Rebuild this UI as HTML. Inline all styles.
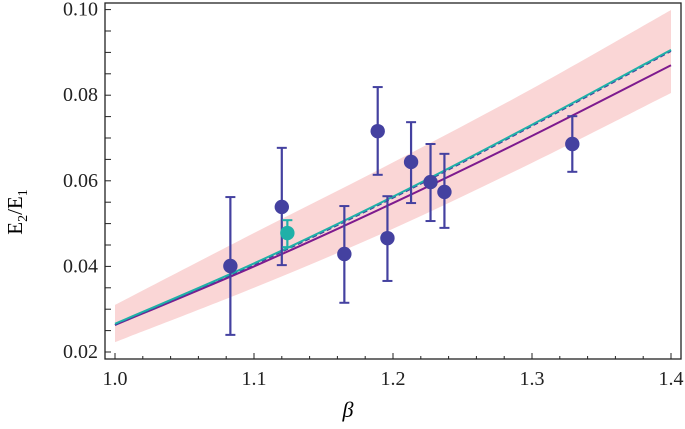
<!DOCTYPE html>
<html><head><meta charset="utf-8"><style>
html,body{margin:0;padding:0;background:#fff;}
svg{display:block;}
text{font-family:"Liberation Serif","Times New Roman",Times,serif;}
</style></head><body>
<svg id="chart" width="685" height="429" xmlns="http://www.w3.org/2000/svg" font-family="Liberation Serif, Times New Roman, serif">
<g id="band"></g>
<g id="lines"></g>
<g id="points"></g>
<rect x="105" y="3" width="576" height="356" fill="none" stroke="#222" stroke-width="1.3"/>
<g id="axes"></g>
<text x="348" y="417" font-size="22" font-style="italic" text-anchor="middle" font-family="Liberation Serif, serif">β</text>
<text transform="translate(22,212) rotate(-90)" font-size="21" text-anchor="middle" font-family="Liberation Serif, serif">E<tspan font-size="14" dy="5">2</tspan><tspan dy="-5">/E</tspan><tspan font-size="14" dy="5">1</tspan></text>
</svg>
<script>
const curveBeta=[1.0,1.1,1.2,1.3,1.4];
const tealLine=[0.0266,0.0407,0.0563,0.0731,0.0906];
const purpleLine=[0.0263,0.0400,0.0548,0.0705,0.0870];
const bandUpper=[0.0310,0.0478,0.0643,0.0815,0.0999];
const bandLower=[0.0223,0.0350,0.0488,0.0642,0.0805];
const ptBeta=[1.083,1.120,1.165,1.189,1.196,1.213,1.227,1.237,1.329];
const ptVal=[0.0401,0.0539,0.0429,0.0716,0.0466,0.0644,0.0597,0.0574,0.0686];
const ptHi=[0.0562,0.0677,0.0541,0.0819,0.0564,0.0737,0.0686,0.0663,0.0751];
const ptLo=[0.0240,0.0403,0.0315,0.0614,0.0366,0.0548,0.0506,0.0490,0.0621];
const tealPt=[1.124,0.0478,0.0508,0.0445];
const xTicks=[1.0,1.1,1.2,1.3,1.4];
const xTickLabels=["1.0","1.1","1.2","1.3","1.4"];
const yTicks=[0.02,0.04,0.06,0.08,0.10];
const yTickLabels=["0.02","0.04","0.06","0.08","0.10"];
const NS="http://www.w3.org/2000/svg";
const X=b=>115+(b-1)*1390;
const Y=v=>352-(v-0.02)*4280;
function mk(tag,attrs,parent){const e=document.createElementNS(NS,tag);for(const k in attrs)e.setAttribute(k,attrs[k]);parent.appendChild(e);return e;}
function smooth(vals){const p=curveBeta.map((b,i)=>[X(b),Y(vals[i])]);let d='M'+p[0][0]+','+p[0][1];
for(let i=0;i<p.length-1;i++){const a=p[Math.max(i-1,0)],b=p[i],c=p[i+1],e=p[Math.min(i+2,p.length-1)];
d+=' C'+(b[0]+(c[0]-a[0])/6)+','+(b[1]+(c[1]-a[1])/6)+' '+(c[0]-(e[0]-b[0])/6)+','+(c[1]-(e[1]-b[1])/6)+' '+c[0]+','+c[1];}return d;}
function smoothRev(vals){const r=vals.slice().reverse();const bs=curveBeta.slice().reverse();const p=bs.map((b,i)=>[X(b),Y(r[i])]);let d='L'+p[0][0]+','+p[0][1];
for(let i=0;i<p.length-1;i++){const a=p[Math.max(i-1,0)],b=p[i],c=p[i+1],e=p[Math.min(i+2,p.length-1)];
d+=' C'+(b[0]+(c[0]-a[0])/6)+','+(b[1]+(c[1]-a[1])/6)+' '+(c[0]-(e[0]-b[0])/6)+','+(c[1]-(e[1]-b[1])/6)+' '+c[0]+','+c[1];}return d;}
const band=document.getElementById('band'),lines=document.getElementById('lines'),points=document.getElementById('points'),axes=document.getElementById('axes');
const bp=mk('path',{d:smooth(bandUpper)+smoothRev(bandLower)+'Z',fill:'#fad6d6'},band);


function line(vals,color,w,dash,name){const p=mk('path',{d:smooth(vals),fill:'none',stroke:color,'stroke-width':w},lines);if(dash)p.setAttribute('stroke-dasharray',dash);

}
line(purpleLine,'#7e1a8e',2,null,'purple-fit-line');
line(tealLine.map(v=>v-0.0003),'#3f44a0',1.6,'5,3','blue-dashed-line');
line(tealLine,'#1fb0a8',2,null,'teal-fit-line');
function pt(b,v,hi,lo,color,name){const g=mk('g',{},points);


const x=X(b);mk('line',{x1:x,x2:x,y1:Y(hi),y2:Y(lo),stroke:color,'stroke-width':2.2},g);
mk('line',{x1:x-5,x2:x+5,y1:Y(hi),y2:Y(hi),stroke:color,'stroke-width':2},g);
mk('line',{x1:x-5,x2:x+5,y1:Y(lo),y2:Y(lo),stroke:color,'stroke-width':2},g);
mk('circle',{cx:x,cy:Y(v),r:7.2,fill:color},g);}
ptBeta.forEach((b,i)=>pt(b,ptVal[i],ptHi[i],ptLo[i],'#4441a0','data-point'));
pt(tealPt[0],tealPt[1],tealPt[2],tealPt[3],'#1fb0a8','teal-data-point');
for(let v=0.02;v<=0.1001;v+=0.005){mk('line',{x1:105,x2:111,y1:Y(v),y2:Y(v),stroke:'#222','stroke-width':1},axes);}
for(let b=1.0;b<=1.4001;b+=0.02){const maj=Math.abs(b*10-Math.round(b*10))<1e-6;mk('line',{x1:X(b),x2:X(b),y1:359,y2:maj?353:356,stroke:'#222','stroke-width':1},axes);}
xTicks.forEach((b,i)=>{const t=mk('text',{x:X(b),y:385,'font-size':20,'text-anchor':'middle',fill:'#222','font-family':'Liberation Serif, serif'},axes);t.textContent=xTickLabels[i];

});
yTicks.forEach((v,i)=>{const t=mk('text',{x:98,y:Y(v)+6,'font-size':20,'text-anchor':'end',fill:'#222','font-family':'Liberation Serif, serif'},axes);t.textContent=yTickLabels[i];

});
</script>
</body></html>
